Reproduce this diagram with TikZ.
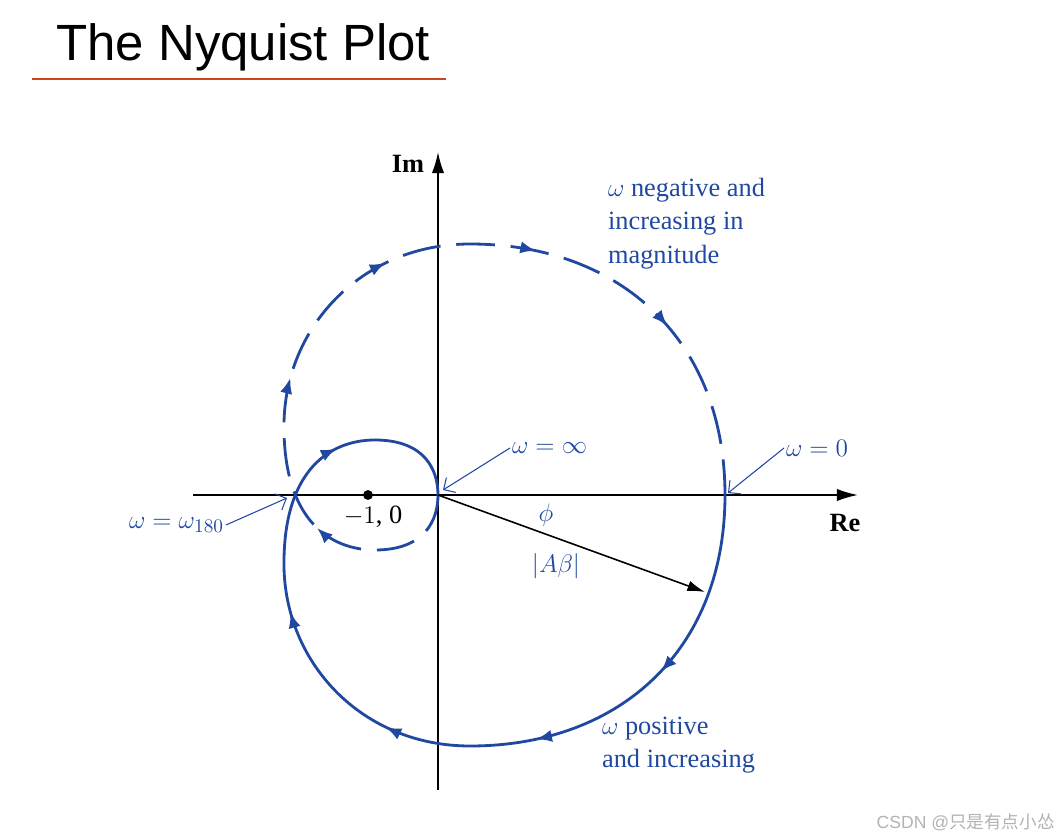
\documentclass[tikz,border=0pt]{standalone}
\usepackage{fontspec}
\setmainfont{Liberation Serif}
\newfontfamily\sansf{Liberation Sans}
\newfontfamily\cjk{Noto Sans CJK SC}
\usetikzlibrary{arrows.meta,decorations.markings}
\definecolor{nblue}{RGB}{32,72,160}
\definecolor{tred}{RGB}{200,70,30}
\tikzset{
  curve/.style={nblue,line width=1.6pt},
  lab/.style={nblue,font=\fontsize{15}{17}\selectfont,inner sep=1pt},
  leader/.style={nblue,line width=0.6pt,-{Straight Barb[length=5pt]}},
  marks/.style={postaction={decorate},decoration={markings,#1}}
}
\begin{document}
\begin{tikzpicture}[x=0.02cm,y=-0.02cm]
\useasboundingbox (0,0) rectangle (1063,838);
% title
\node[anchor=west,font=\sansf\fontsize{29}{32}\selectfont,inner sep=0] (title) at (56,47) {The Nyquist Plot};
\draw[tred,line width=1.5pt] (32,79) -- (446,79);
% axes
\draw[line width=1pt,-{Latex[length=12pt,width=7pt]}] (193,495) -- (858,495);
\draw[line width=1pt,-{Latex[length=12pt,width=7pt]}] (438,790) -- (438,152);
\node[font=\bfseries\fontsize{15}{17}\selectfont] (im) at (408,164) {Im};
\node[font=\bfseries\fontsize{15}{17}\selectfont] (re) at (845,523) {Re};
% solid path
\draw[curve,marks={mark=at position 0.2 with {\arrow{Latex[length=9pt,width=7pt]}},
  mark=at position 0.35 with {\arrow{Latex[length=9pt,width=7pt]}},
  mark=at position 0.51 with {\arrow{Latex[length=9pt,width=7pt]}},
  mark=at position 0.67 with {\arrow{Latex[length=9pt,width=7pt]}},
  mark=at position 0.86 with {\arrow{Latex[length=9pt,width=7pt]}}}]
  (725,495) .. controls (725,650) and (620,746) .. (470,746)
  .. controls (360,746) and (282,660) .. (284,560)
  .. controls (285,470) and (330,440) .. (375,440)
  .. controls (425,440) and (438,470) .. (438,495);
% dashed path
\draw[curve,dash pattern=on 22pt off 9pt,marks={mark=at position 0.165 with {\arrow{Latex[length=9pt,width=7pt]}},
  mark=at position 0.33 with {\arrow{Latex[length=9pt,width=7pt]}},
  mark=at position 0.49 with {\arrow{Latex[length=9pt,width=7pt]}},
  mark=at position 0.65 with {\arrow{Latex[length=9pt,width=7pt]}},
  mark=at position 0.81 with {\arrow{Latex[length=9pt,width=7pt]}}}]
  (438,495) .. controls (438,520) and (425,550) .. (375,550)
  .. controls (330,550) and (285,520) .. (284,430)
  .. controls (282,330) and (360,244) .. (470,244)
  .. controls (620,244) and (725,340) .. (725,495);
% -1,0
\fill (368,495) circle (2.8pt);
\node[font=\fontsize{15}{17}\selectfont] (m1) at (373,517) {$-1$, 0};
% vector
\coordinate (o) at (438,495);
\coordinate (tip) at (705,592);
\draw[line width=0.9pt,-{Latex[length=10pt,width=6pt]}] (o) -- (tip);
\node[lab] (phi) at (546,515) {$\phi$};
\node[lab] (ab) at (556,566) {$|A\beta|$};
% labels with leaders
\node[lab,anchor=west] (winf) at (510,448) {$\omega = \infty$};
\coordinate (winfe) at (443,490);
\draw[leader] (winf.west) -- (winfe);
\node[lab,anchor=west] (w0) at (784,448) {$\omega = 0$};
\coordinate (w0e) at (728,493);
\draw[leader] (w0.west) -- (w0e);
\node[lab,anchor=east] (w180) at (226,525) {$\omega = \omega_{180}$};
\coordinate (w180e) at (287,498);
\draw[leader] (w180.east) -- (w180e);
\node[lab,anchor=north west,align=left,font=\fontsize{15}{19}\selectfont] (neg) at (606,176) {$\omega$ negative and\\increasing in\\magnitude};
\node[lab,anchor=north west,align=left,font=\fontsize{15}{19}\selectfont] (pos) at (600,715) {$\omega$ positive\\and increasing};
% watermark
\node[gray!60,anchor=east,font=\sansf\fontsize{10}{12}\selectfont,inner sep=0] (wm) at (1055,822) {CSDN @{\cjk 只是有点小怂}};
\end{tikzpicture}
\end{document}
